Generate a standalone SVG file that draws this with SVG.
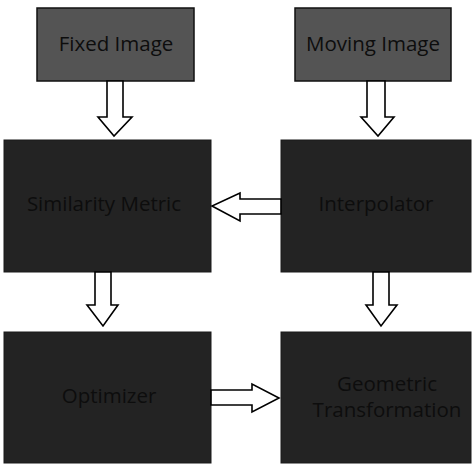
<svg xmlns="http://www.w3.org/2000/svg" width="474" height="467" viewBox="0 0 474 467">
<style>
.gray{fill:#545454;stroke:#111;stroke-width:1.5}
.dark{fill:#232323;stroke:#1a1a1a;stroke-width:1}
.lbl{font-family:"Open Sans","Noto Sans",sans-serif;font-size:20.5px;fill:#0d0d0d;text-anchor:middle}
.arr{fill:#fff;stroke:#000;stroke-width:1.6;stroke-linejoin:miter}
</style>
<rect width="474" height="467" fill="#fff"/>
<g id="fixed-image">
<rect class="gray" x="37" y="8" width="157" height="73"/>
<text class="lbl" x="116" y="51">Fixed Image</text>
</g>
<g id="moving-image">
<rect class="gray" x="295" y="8" width="156" height="73"/>
<text class="lbl" x="373" y="51">Moving Image</text>
</g>
<g id="similarity-metric">
<rect class="dark" x="4" y="140" width="207" height="132"/>
<text class="lbl" x="104" y="211">Similarity Metric</text>
</g>
<g id="interpolator">
<rect class="dark" x="281" y="140" width="190" height="132"/>
<text class="lbl" x="376" y="211">Interpolator</text>
</g>
<g id="optimizer">
<rect class="dark" x="4" y="332" width="207" height="131"/>
<text class="lbl" x="109" y="403">Optimizer</text>
</g>
<g id="geometric-transformation">
<rect class="dark" x="281" y="332" width="190" height="131"/>
<text class="lbl" x="387" y="391">Geometric</text>
<text class="lbl" x="387" y="417">Transformation</text>
</g>
<g id="connectors">
<polygon class="arr" points="107,81 123,81 123,117 132,117 114,136 98,117 107,117"/>
<polygon class="arr" points="367,81 385,81 385,117 394,117 378,136 361,117 367,117"/>
<polygon class="arr" points="281,199 240,199 240,193 212,206 240,221 240,214 281,214"/>
<polygon class="arr" points="95,272 111,272 111,305 118,305 103,326 87,305 95,305"/>
<polygon class="arr" points="373,272 389,272 389,305 397,305 381,326 366,305 373,305"/>
<polygon class="arr" points="211,390 252,390 252,384 279,398 252,412 252,405 211,405"/>
</g>
</svg>
